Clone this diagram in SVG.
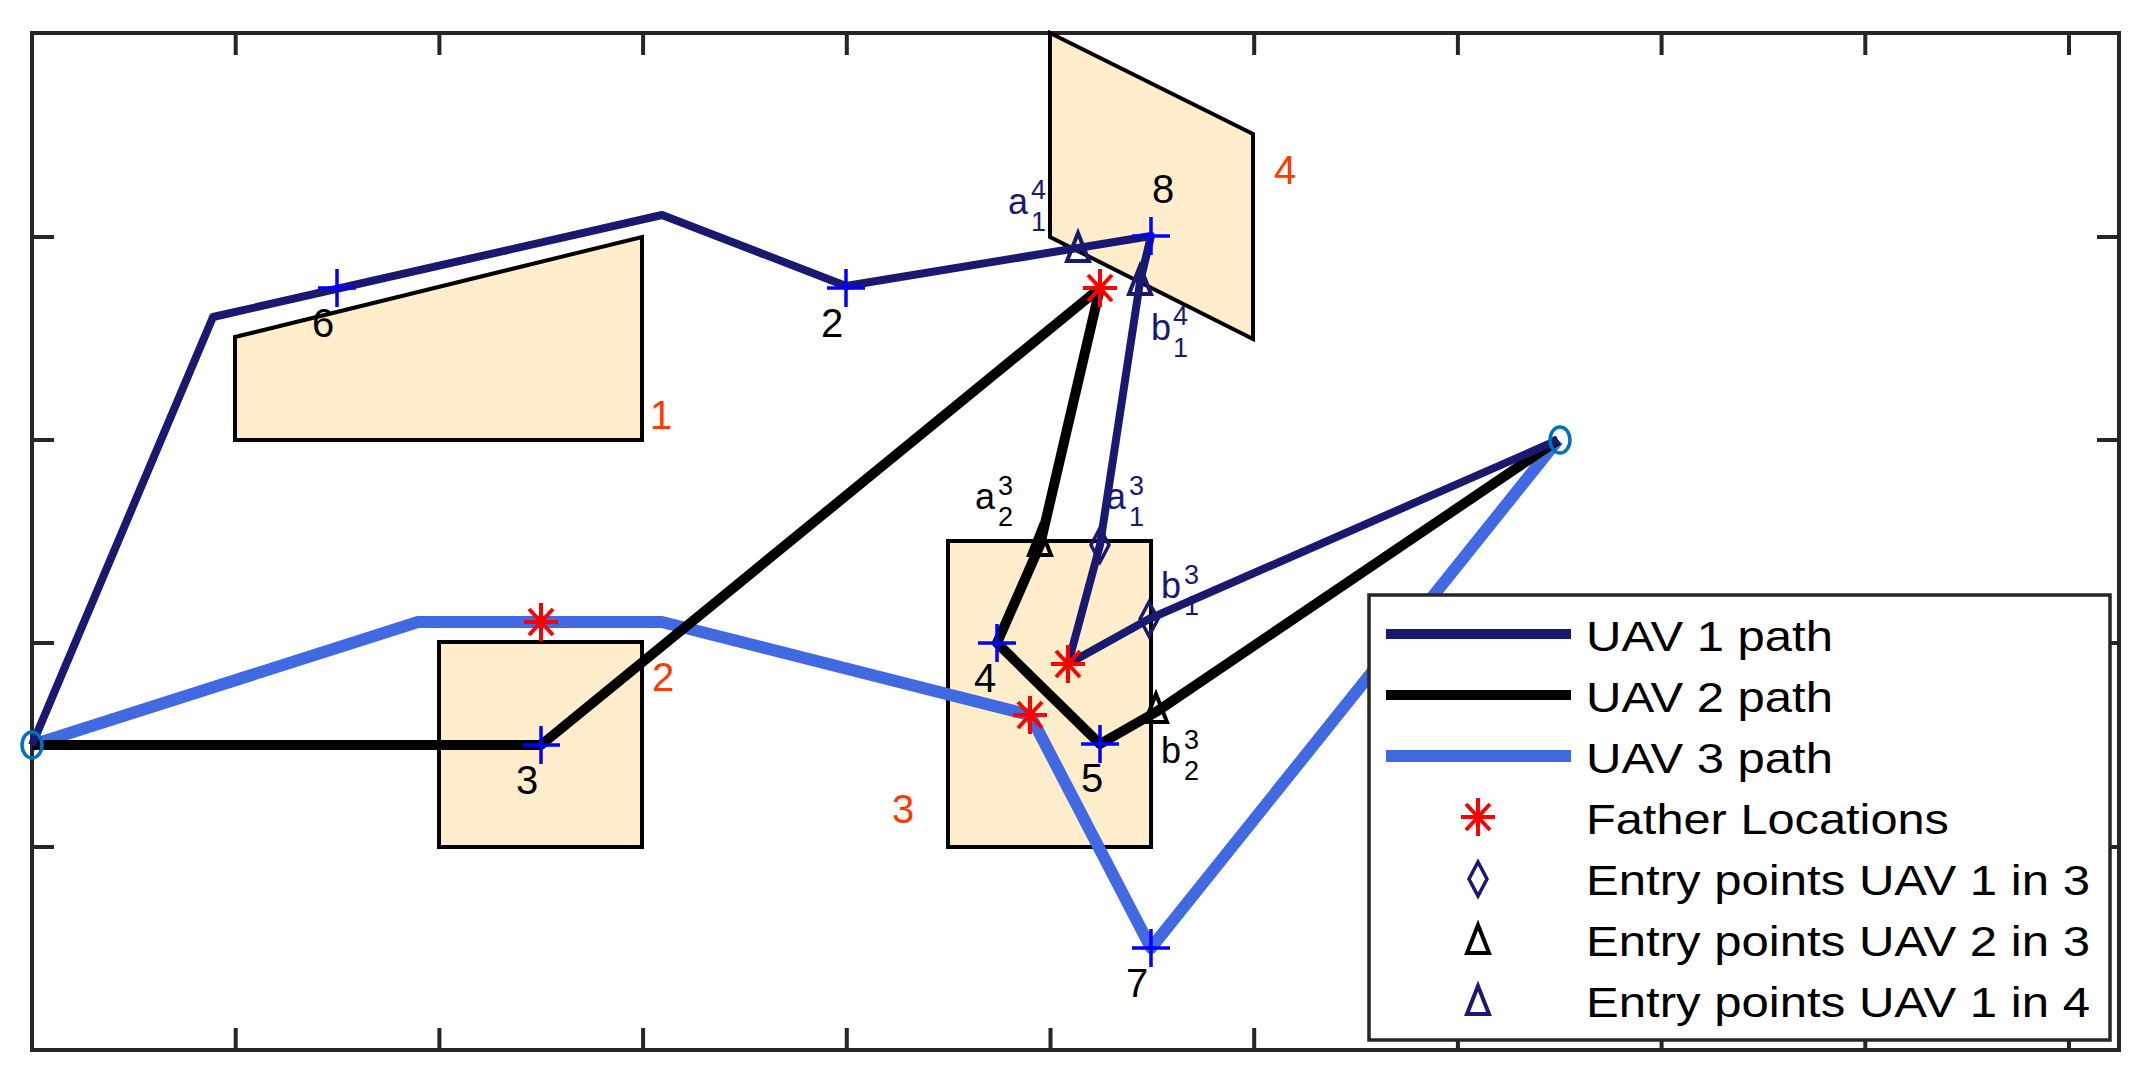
<svg xmlns="http://www.w3.org/2000/svg" width="2155" height="1078" viewBox="0 0 2155 1078">
<style>
.ax{fill:none;stroke:#262626;stroke-width:4}
.tk{stroke:#262626;stroke-width:4}
.reg{fill:#FFEDCC;stroke:#000;stroke-width:4}
.rl{font-family:"Liberation Sans",Arial,sans-serif;font-size:40px;fill:#FF3A00}
.nl{font-family:"Liberation Sans",Arial,sans-serif;font-size:40px;fill:#000}
.el{font-family:"Liberation Sans",Arial,sans-serif;font-size:36px}
.es{font-family:"Liberation Sans",Arial,sans-serif;font-size:27px}
.u1{fill:none;stroke:#191970;stroke-width:8;stroke-linejoin:round}
.u2{fill:none;stroke:#000;stroke-width:10;stroke-linejoin:round}
.u3{fill:none;stroke:#4169E1;stroke-width:12;stroke-linejoin:round}
.pl{stroke:#0000FF;stroke-width:3.5}
.st{stroke:#FF0000;stroke-width:4}
.lg{font-family:"Liberation Sans",Arial,sans-serif;font-size:42px;fill:#000}
</style>
<defs>
<g id="plus"><line class="pl" x1="-19" y1="0" x2="19" y2="0"/><line class="pl" x1="0" y1="-19" x2="0" y2="19"/></g>
<g id="star"><line class="st" x1="0" y1="-19" x2="0" y2="19"/><line class="st" x1="-17" y1="0" x2="17" y2="0"/><line class="st" x1="-12" y1="-13" x2="12" y2="13"/><line class="st" x1="-12" y1="13" x2="12" y2="-13"/></g>
<path id="tri" d="M0,-15 L11,13 L-11,13 Z" fill="none" stroke-width="4"/>
<path id="dia" d="M0,-17 L9,0 L0,17 L-9,0 Z" fill="none" stroke-width="3.5"/>
</defs>
<rect width="2155" height="1078" fill="#fff"/>
<g id="axes">
<rect class="ax" x="32" y="33" width="2087" height="1017"/>
<path class="tk" d="M235.7,33v22M439.4,33v22M643.1,33v22M846.8,33v22M1050.5,33v22M1254.2,33v22M1457.9,33v22M1661.6,33v22M1865.3,33v22M2069,33v22M235.7,1050v-22M439.4,1050v-22M643.1,1050v-22M846.8,1050v-22M1050.5,1050v-22M1254.2,1050v-22M1457.9,1050v-22M1661.6,1050v-22M1865.3,1050v-22M2069,1050v-22M32,237h22M32,440h22M32,643h22M32,847h22M2119,237h-22M2119,440h-22M2119,643h-22M2119,847h-22"/>
</g>
<g id="region1"><path class="reg" d="M235,337 L642,237 L642,440 L235,440 Z"/><text class="rl" x="650" y="429">1</text></g>
<g id="region2"><rect class="reg" x="439" y="642" width="203" height="205"/><text class="rl" x="652" y="691">2</text></g>
<g id="region3"><rect class="reg" x="948" y="541" width="203" height="306"/><text class="rl" x="892" y="823">3</text></g>
<g id="region4"><path class="reg" d="M1050,33 L1253,134 L1253,339 L1050,237 Z"/><text class="rl" x="1274" y="184">4</text></g>
<g id="connectors">
<polyline class="u3" points="32,745 418,622 662,622 1030,715 1151,948 1558,440"/>
<polyline class="u2" points="32,745 541,745 1100,288 1040,545 997,643 1100,744 1156,712 1558,440"/>
<polyline class="u1" points="32,745 213,317 662,215 846,286 1151,236 1140,282 1100,545 1068,664 1149,619 1558,440"/>
</g>
<g id="markers">
<use href="#plus" x="337" y="288"/><use href="#plus" x="846" y="288"/><use href="#plus" x="1151" y="236"/>
<use href="#plus" x="541" y="745"/><use href="#plus" x="997" y="643"/><use href="#plus" x="1100" y="744"/><use href="#plus" x="1151" y="948"/>
<use href="#star" x="1100" y="288"/><use href="#star" x="541" y="622"/><use href="#star" x="1030" y="715"/><use href="#star" x="1068" y="664"/>
<use href="#tri" x="1078" y="248" stroke="#191970"/><use href="#tri" x="1140" y="281" stroke="#191970"/>
<use href="#tri" x="1040" y="542" stroke="#000"/><use href="#tri" x="1156" y="709" stroke="#000"/>
<use href="#dia" x="1100" y="545" stroke="#191970"/><use href="#dia" x="1149" y="619" stroke="#191970"/>
<ellipse cx="32" cy="745" rx="10" ry="13" fill="none" stroke="#0072BD" stroke-width="3.5"/>
<ellipse cx="1560" cy="440" rx="10" ry="13" fill="none" stroke="#0072BD" stroke-width="3.5"/>
</g>
<g id="labels">
<text class="nl" x="312" y="337">6</text><text class="nl" x="821" y="337">2</text><text class="nl" x="1152" y="203">8</text>
<text class="nl" x="516" y="794">3</text><text class="nl" x="974" y="692">4</text><text class="nl" x="1081" y="792">5</text><text class="nl" x="1126" y="997">7</text>
<g fill="#191970"><text class="el" x="1008" y="214">a</text><text class="es" x="1031" y="199">4</text><text class="es" x="1031" y="231">1</text></g>
<g fill="#191970"><text class="el" x="1151" y="340">b</text><text class="es" x="1173" y="325">4</text><text class="es" x="1173" y="357">1</text></g>
<g fill="#191970"><text class="el" x="1106" y="509">a</text><text class="es" x="1129" y="495">3</text><text class="es" x="1129" y="526">1</text></g>
<g fill="#000"><text class="el" x="975" y="509">a</text><text class="es" x="998" y="495">3</text><text class="es" x="998" y="526">2</text></g>
<g fill="#191970"><text class="el" x="1161" y="598">b</text><text class="es" x="1184" y="584">3</text><text class="es" x="1184" y="615">1</text></g>
<g fill="#000"><text class="el" x="1161" y="763">b</text><text class="es" x="1184" y="749">3</text><text class="es" x="1184" y="780">2</text></g>
</g>
<g id="legend">
<rect x="1369" y="595" width="741" height="445" fill="#fff" stroke="#262626" stroke-width="3.5"/>
<line x1="1386" y1="634" x2="1571" y2="634" stroke="#191970" stroke-width="10"/>
<line x1="1386" y1="695" x2="1571" y2="695" stroke="#000" stroke-width="10"/>
<line x1="1386" y1="756" x2="1571" y2="756" stroke="#4169E1" stroke-width="12"/>
<use href="#star" x="1478" y="817"/>
<use href="#dia" x="1478" y="879" stroke="#191970"/>
<use href="#tri" x="1478" y="940" stroke="#000"/>
<use href="#tri" x="1478" y="1001" stroke="#191970"/>
<text class="lg" x="1586" y="651" textLength="247" lengthAdjust="spacingAndGlyphs">UAV 1 path</text>
<text class="lg" x="1586" y="712" textLength="247" lengthAdjust="spacingAndGlyphs">UAV 2 path</text>
<text class="lg" x="1586" y="773" textLength="247" lengthAdjust="spacingAndGlyphs">UAV 3 path</text>
<text class="lg" x="1586" y="834" textLength="363" lengthAdjust="spacingAndGlyphs">Father Locations</text>
<text class="lg" x="1586" y="895" textLength="504" lengthAdjust="spacingAndGlyphs">Entry points UAV 1 in 3</text>
<text class="lg" x="1586" y="956" textLength="504" lengthAdjust="spacingAndGlyphs">Entry points UAV 2 in 3</text>
<text class="lg" x="1586" y="1017" textLength="504" lengthAdjust="spacingAndGlyphs">Entry points UAV 1 in 4</text>
</g>
</svg>
